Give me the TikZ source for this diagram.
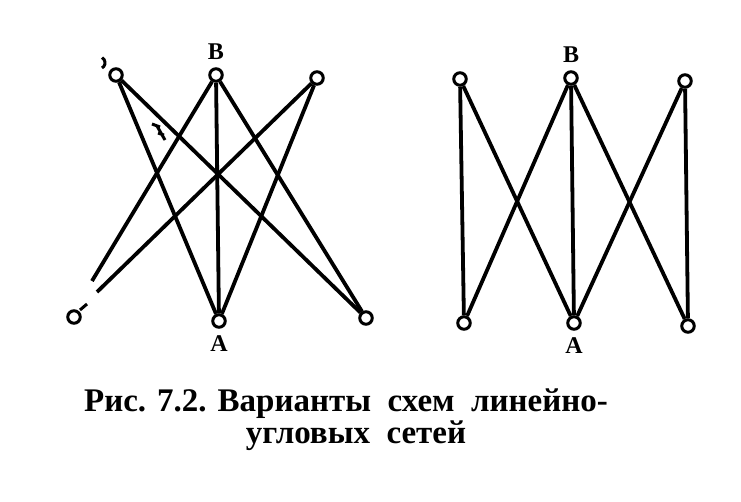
\documentclass[tikz,border=0pt]{standalone}
\usepackage{fontspec}
\setmainfont{Liberation Serif}
\usetikzlibrary{positioning}
\begin{document}
\begin{tikzpicture}[x=1pt, y=-1pt]
		\tikzset{station/.style={circle, draw, line width=3pt, fill=white, inner sep=0, minimum size=12.5pt}}
		\tikzset{ray/.style={line width=3.8pt}}
		\tikzset{pname/.style={font=\bfseries\fontsize{24}{24}\selectfont, inner sep=0}}
		\tikzset{capline/.style={font=\bfseries\fontsize{33}{33}\selectfont, inner sep=0}}
		\useasboundingbox (0,0) rectangle (741,501);
		% left scheme
		\node[station] at (116,75) (l1) {};
		\node[station] at (216,75) (lB) {};
		\node[station] at (317,78) (l3) {};
		\node[station] at (74,317) (l4) {};
		\node[station] at (219,321) (lA) {};
		\node[station] at (366,318) (l6) {};
		\node[pname, above=7pt of lB] (lBt) {В};
		\node[pname, below=7pt of lA] (lAt) {А};
		\coordinate (lq) at (92,281);
		\coordinate (lr) at (97,292);
		\draw[ray] (l1) -- (lA);
		\draw[ray] (l1) -- (l6);
		\draw[ray] (lB) -- (lA);
		\draw[ray] (lB) -- (l6);
		\draw[ray] (l3) -- (lA);
		\draw[ray] (lB) -- (lq);
		\draw[ray] (l3) -- (lr);
		% marks from the print
		\draw[line width=3pt] (102,68) arc (60:-60:6);
		\draw[line width=3pt] (80,310) -- (87,304);
		\draw[line width=3pt] (152,124) -- (160,127) (157,126) -- (165,140) (158,133) -- (164,135);
		% right scheme
		\node[station] at (460,79) (r1) {};
		\node[station] at (571,78) (rB) {};
		\node[station] at (685,81) (r3) {};
		\node[station] at (464,323) (r4) {};
		\node[station] at (574,323) (rA) {};
		\node[station] at (688,326) (r6) {};
		\node[pname, above=7pt of rB] (rBt) {В};
		\node[pname, below=7pt of rA] (rAt) {А};
		\draw[ray] (r1) -- (r4);
		\draw[ray] (r1) -- (rA);
		\draw[ray] (rB) -- (r4);
		\draw[ray] (rB) -- (rA);
		\draw[ray] (rB) -- (r6);
		\draw[ray] (r3) -- (rA);
		\draw[ray] (r3) -- (r6);
		% caption
		\node[capline] at (346,404) (cap1) {Рис. 7.2. Варианты\ \ схем\ \ линейно-};
		\node[capline] at (356,436) (cap2) {угловых\ \ сетей};
\end{tikzpicture}
\end{document}
